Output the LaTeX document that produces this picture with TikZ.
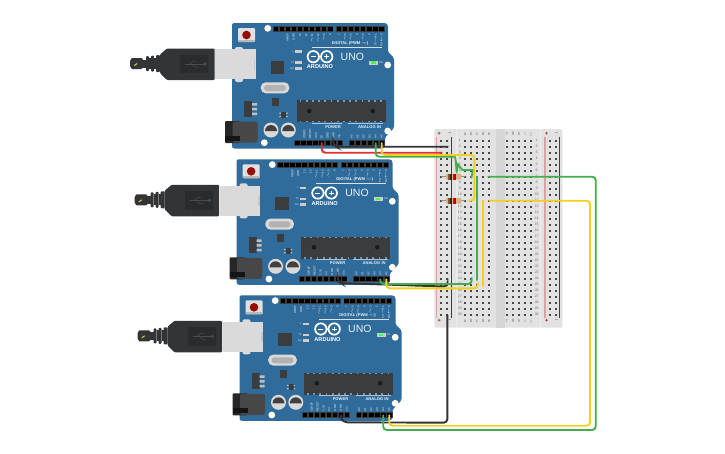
\documentclass[tikz,border=0pt]{standalone}
\usepackage{fontspec}
\setmainfont{Liberation Sans}
\definecolor{bblue}{HTML}{2F6C9B}
\definecolor{hdr}{HTML}{3A3C3E}
\definecolor{pin}{HTML}{232425}
\definecolor{usbk}{HTML}{333435}
\definecolor{usbin}{HTML}{2A2B2C}
\definecolor{plug}{HTML}{DADADA}
\definecolor{bbd}{HTML}{E2E2E2}
\definecolor{wgreen}{HTML}{45AD4C}
\definecolor{wyellow}{HTML}{F2D01E}
\definecolor{wred}{HTML}{E0312F}
\definecolor{wblack}{HTML}{333333}
\definecolor{rail}{HTML}{D9A3A3}
\definecolor{tan}{HTML}{D9B27C}
\tikzset{
  wire/.style={line width=1.9pt,rounded corners=3.5pt,line cap=round},
  lbl/.style={text=white!88!bblue,inner sep=0pt,font=\fontsize{3.2}{3.6}\selectfont},
  pinl/.style={lbl,rotate=90,anchor=east,font=\fontsize{2.9}{3.2}\selectfont},
  bbt/.style={text=black!55,inner sep=0pt,font=\fontsize{3.5}{4}\selectfont},
}
\newcommand{\hdrrow}[4]{% x0, y, count, name
  \fill[hdr] (#1,#2) rectangle ++({#3*6.07},6);
  \foreach \i in {1,...,#3}{\fill[pin] ({#1+(\i-1)*6.07+0.9},#2+1) rectangle ++(4.3,4);}
}
\newcommand{\ardu}[3]{%
\begin{scope}[shift={(#2,#3)}]
  % USB cable
  \fill[usbk,rounded corners=2pt] (130,63.5) to[out=90,in=180] (134,58) -- (143,58) -- (143,69) -- (134,69) to[out=180,in=-90] cycle;
  \fill[usbk] (142,59.5) rectangle (146,67.5);
  \fill[usbk,rounded corners=1pt] (146,56) rectangle (149,71);
  \fill[usbk] (149,58) rectangle (151,69);
  \fill[usbk,rounded corners=1pt] (151,55.5) rectangle (154,71.5);
  \fill[usbk] (154,58) rectangle (156,69);
  \fill[usbk,rounded corners=1pt] (156,55) rectangle (160,72);
  \fill[usbk,rounded corners=1pt] (160,54.5) -- (167,48.5) -- (214.5,48.5) -- (214.5,80) -- (167,80) -- (160,73) -- cycle;
  \fill[usbin] (180,55) rectangle (208.3,73.3);
  \draw[black!70,line width=.6pt] (185,64) -- (205,64);
  \fill[black!70] (205,64) circle (1.8);
  \draw[black!70,line width=.5pt] (190,64) -- (193,61) -- (197,61) (192,64) -- (195,67) -- (199,67);
  \fill[wyellow] (134,65.2) -- (137,63) -- (137.3,64) -- (134.5,66) -- cycle;
  % board
  \fill[bblue,rounded corners=1.5pt] (232,23) -- (386,23) -- (388,25) -- (388,52) -- (394,58) -- (394,128) -- (385,137.5) -- (385,146) -- (383,148.5) -- (233,148.5) -- (232,147) -- cycle;
  % USB socket
  \fill[plug,rounded corners=2pt] (235,47) rectangle (243,82);
  \fill[plug] (215,49.3) rectangle (255.5,79.3);
  \fill[black!22] (253.5,60) rectangle (255,70);
  % holes
  \foreach \p/\q in {267.7/28.3,387.7/65,387.7/131,264.3/142.7}{\fill[white!95!yellow] (\p,\q) circle (3.4);}
  % reset
  \fill[black!12,rounded corners=1pt] (238,28) rectangle (255,42);
  \fill[black!28] (238,40) rectangle (255,42);
  \fill[red!55!black!90!orange] (246.5,35) circle (4.3);
  % headers
  \hdrrow{272.7}{25.7}{10}{}
  \hdrrow{336}{25.7}{8}{}
  \hdrrow{294.3}{140}{8}{}
  \hdrrow{348.7}{140}{6}{}
  % digital labels
  \foreach \x/\t in {287.7/AREF,293.5/GND,300/13,306/12,312/$\sim$11,318/$\sim$10,324/$\sim$9,330/8,339/7,345/$\sim$6,351/$\sim$5,357.2/4,363.2/$\sim$3,369.2/2,375.5/TX$\to$1,381.6/RX$\leftarrow$0}{
    \node[pinl] at (\x,33.5) {\t};}
  \draw[white!80!bblue,line width=.4pt] (311.7,46.7) -- (381.7,46.7);
  \node[lbl,anchor=east,font=\fontsize{4.1}{4.4}\selectfont\bfseries] (#1dig) at (368.5,43.3) {DIGITAL (PWM $\sim$)};
  % LEDs
  \foreach \y/\t in {51.7/L,62.7/TX,68.3/RX}{
    \fill[white!80!black] (295,\y-1.3) rectangle (301.5,\y+1.3);
    \node[lbl,anchor=east,font=\fontsize{2.5}{3}\selectfont] at (294.3,\y) {\t};}
  \fill[white!80!black] (369,60.8) rectangle (378,64.6);
  \fill[green!75!white] (371,61.3) rectangle (375.5,64.1);
  \node[lbl,anchor=west,font=\fontsize{2.5}{3}\selectfont] (#1on) at (379,62.7) {ON};
  % logo
  \draw[white,line width=1.7pt] (313.3,56.7) circle (5.7) (326.7,56.7) circle (5.7);
  \draw[white,line width=.9pt] (310.8,56.7) -- (315.6,56.7) (324.3,56.7) -- (329.1,56.7) (326.7,54.3) -- (326.7,59.1);
  \node[lbl,text=white,font=\fontsize{5.6}{6}\selectfont\bfseries] (#1ard) at (320,67) {ARDUINO};
  \node[lbl,text=white!90!bblue,font=\fontsize{10.5}{11}\selectfont] (#1uno) at (352.4,57) {UNO};
  % chips
  \fill[hdr] (270.7,61) rectangle (284,74);
  \fill[white!85!black,rounded corners=5pt] (260.7,82.3) rectangle (289.3,93.3);
  \fill[white!70!black,rounded corners=3pt] (264,85) rectangle (286,91);
  \fill[hdr] (272,97.7) rectangle (279.3,105.7);
  \fill[hdr] (244,101) rectangle (252,117);
  \fill[white!75!black] (252,103) rectangle (257,105.5) (252,107.8) rectangle (257,110.3) (252,112.6) rectangle (257,115.1);
  \fill[hdr] (281,112) rectangle (286,118);
  \fill[white!75!black] (279.3,112.5) rectangle (281,113.8) (279.3,115.8) rectangle (281,117.1) (286,112.5) rectangle (287.5,113.8) (286,115.8) rectangle (287.5,117.1);
  \fill[hdr] (296.7,100.3) rectangle (385.7,122.3);
  \foreach \i in {0,...,13}{
    \fill[bblue!70!white] (299.5+\i*6.2,100.3) rectangle ++(1.8,1.4);
    \fill[bblue!70!white] (299.5+\i*6.2,120.9) rectangle ++(1.8,1.4);}
  \fill[black!90] (309.3,111) circle (2.2) (372.7,111) circle (2.2);
  % jack
  \fill[black!85,rounded corners=1pt] (225,121) rectangle (240,143);
  \fill[black!72,rounded corners=2pt] (232.5,121.5) rectangle (257.7,142.5);
  \fill[black!92] (225,136) rectangle (240,141);
  % caps
  \foreach \x in {271,288.3}{
    \fill[white!85!black] (\x,130) circle (7.5);
    \fill[black!75] (\x-6,131) arc[start angle=180,end angle=360,radius=6] -- cycle;
  }
  % power / analog
  \draw[white!60!bblue,line width=.5pt] (311.7,123.3) -- (341.7,123.3) (348,123.3) -- (383,123.3);
  \node[lbl,font=\fontsize{4.1}{4.4}\selectfont\bfseries] (#1pow) at (333,127) {POWER};
  \node[lbl,font=\fontsize{4.1}{4.4}\selectfont\bfseries] (#1ana) at (369.5,127) {ANALOG IN};
  \foreach \x/\t in {304.3/IOREF,310/RESET,316/3.3V,321.7/5V,327.5/GND,333.3/GND,339.3/Vin,351.7/A0,357.7/A1,363.7/A2,369.7/A3,375.7/A4,381.7/A5}{
    \node[pinl,anchor=west] at (\x,139) {\t};}
  % pin coordinates
  \coordinate (#15V) at (321.7,143);
  \coordinate (#1GND) at (333.3,143);
  \coordinate (#1A4) at (375.7,143);
  \coordinate (#1A5) at (381.7,143);
\end{scope}}
\begin{document}
\begin{tikzpicture}[x=1pt,y=-1pt]
\useasboundingbox (0,0) rectangle (725,453);
\fill[white] (0,0) rectangle (725,453);
% breadboard
\fill[bbd,rounded corners=1.5pt] (434.3,129) rectangle (562.3,327.7);
\fill[black!16] (496,129) rectangle (505,327.7);
\fill[white!92!black] (456,129) rectangle (457.5,327.7) (539.7,129) rectangle (541.2,327.7);
\draw[rail,line width=1.2pt] (436.7,136.7) -- (436.7,318);
\draw[black!75,line width=.7pt] (451.7,136.7) -- (451.7,318);
\draw[rail,line width=1.2pt] (545,136.7) -- (545,318);
\draw[black!75,line width=.7pt] (559.3,136.7) -- (559.3,318);
\foreach \r in {1,...,30}{
  \pgfmathsetmacro{\yy}{140.7+(\r-1)*6}
  \foreach \x in {441.3,447.3,465,471,477,483.2,489.2,507,513,519,525,531,550,555.7}{
    \fill[black!72] (\x-.85,\yy-.85) rectangle ++(1.7,1.7);}
  \node[bbt] at (459.8,\yy) {\r};
  \node[bbt] at (536.7,\yy) {\r};
}
\foreach \y in {134,321}{
  \foreach \x/\t in {465/a,471/b,477/c,483.2/d,489.2/e,507/f,513/g,519/h,525/i,531/j}{\node[bbt,font=\fontsize{4.5}{5}\selectfont] at (\x,\y) {\t};}
  \foreach \x in {439.3,546.7}{\node[bbt,text=red!70!black,font=\fontsize{5.5}{6}\selectfont\bfseries] at (\x,\y) {+};}
  \foreach \x in {450,556.7}{\node[bbt,font=\fontsize{5.5}{6}\selectfont\bfseries] at (\x,\y) {--};}
}
% resistors
\foreach \y in {176.7,200.7}{
  \draw[black!45,line width=.8pt] (441,\y) -- (465,\y);
  \fill[tan,rounded corners=1.5pt] (445.7,\y-2.8) rectangle (461.5,\y+2.8);
  \fill[brown!70!black] (447.5,\y-2.8) rectangle ++(2,5.6);
  \fill[black!85] (450.2,\y-2.8) rectangle ++(1.8,5.6);
  \fill[red!85!black] (452.7,\y-2.8) rectangle ++(1.8,5.6);
  \fill[black!70!tan] (455.2,\y-2.8) rectangle ++(.9,5.6);
}
\ardu{aa}{0}{0}
\ardu{bb}{4.6}{136.3}
\ardu{cc}{7.5}{272.3}
% breadboard points
\coordinate (railNegTop) at (447.7,146.7);
\coordinate (railPosTop) at (441.7,152.7);
\coordinate (e7) at (488.3,176.7);
\coordinate (e11) at (489.3,200.7);
\coordinate (b7) at (471,177.3);
\coordinate (b11) at (471,200.7);
\coordinate (c7) at (477.3,176.7);
\coordinate (d11) at (483.3,200.7);
\coordinate (c24) at (477.3,280);
\coordinate (d25) at (483.3,286);
\coordinate (b24) at (471.7,278);
\coordinate (c26) at (477.7,283);
\coordinate (railNegMid) at (447.3,285);
\coordinate (railNegEnd) at (447.3,315);
% wires
\draw[wire,wblack] (aaGND) -- ++(0,2) -- ++(3,1.7) -- (railNegTop);
\draw[wire,wred] (aa5V) |- (railPosTop);
\draw[wire,wgreen] (aaA4) -- (375.7,156.7) -- (451,156.7) to[out=0,in=-100] (457.3,168) to[out=80,in=180] (466,170) -- (470,170) to[out=0,in=-90] (b7);
\draw[wire,wyellow] (aaA5) -- (381.7,155) -- (474.3,155) -- (474.3,200.7) -- (b11);
\draw[wire,wgreen] (c7) -- (c24);
\draw[wire,wyellow] (d11) -- (d25);
\draw[wire,wblack] (bbGND) -- ++(0,2) -- ++(3,1.8) -- (447.3,286.6) -- (railNegMid);
\draw[wire,wgreen] (bbA4) -- (380.3,284) -- (471.7,284) -- (b24);
\draw[wire,wyellow] (bbA5) -- (386.3,288.3) -- (477.7,288.3) -- (c26);
\draw[wire,wblack] (ccGND) -- ++(0,3) -- ++(3,4) -- (447.3,422.7) -- (railNegEnd);
\draw[wire,wyellow] (ccA5) -- (389.2,425.7) -- (590,425.7) -- (590,200.7) -- (e11);
\draw[wire,wgreen] (ccA4) -- (383.2,430) -- (595.7,430) -- (595.7,176.7) -- (e7);
\end{tikzpicture}
\end{document}
